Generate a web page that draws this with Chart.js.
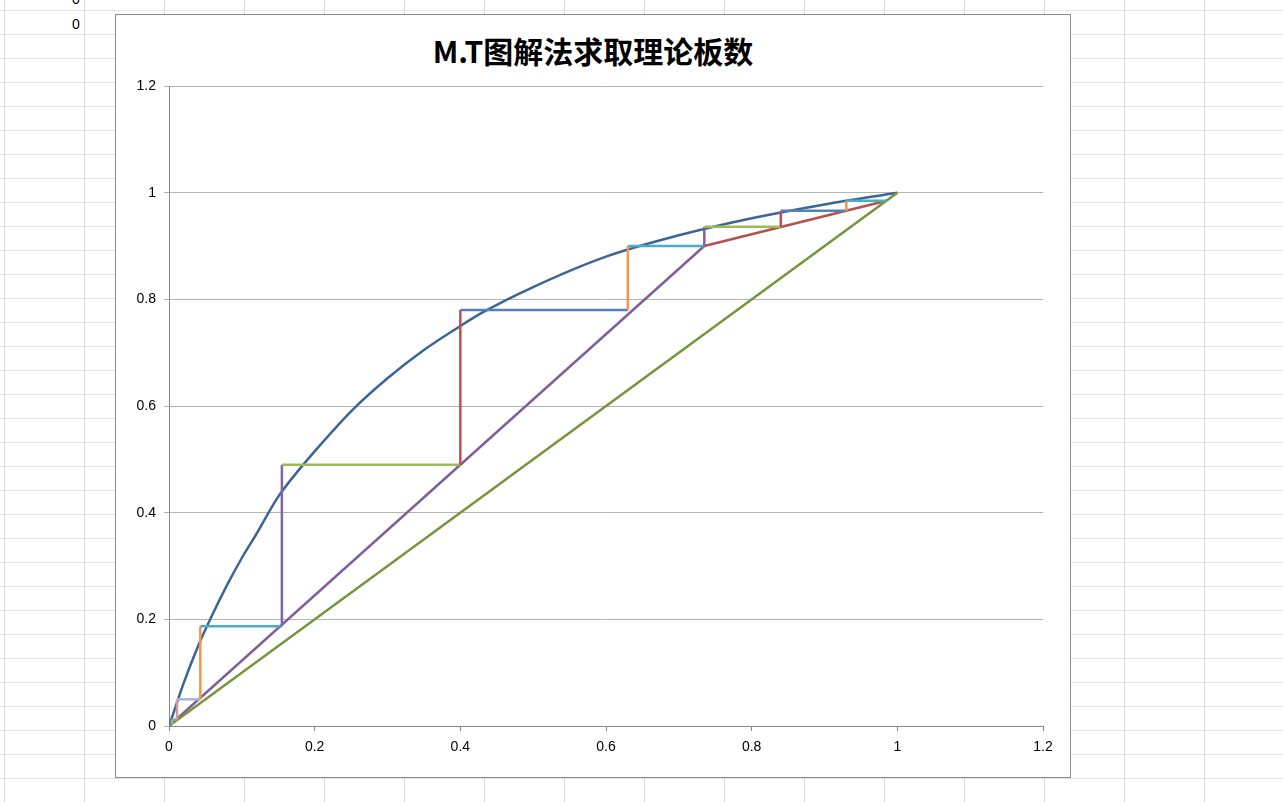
<!DOCTYPE html>
<html><head><meta charset="utf-8">
<script src="https://cdn.jsdelivr.net/npm/chart.js@4"></script>
<style>
html,body{margin:0;padding:0;width:1283px;height:802px;overflow:hidden;font-family:Calibri,"Liberation Sans","Noto Sans CJK SC",sans-serif;
background-color:#fff;
background-image:linear-gradient(to right,#d9d9d9 1px,transparent 1px),linear-gradient(to bottom,#e4e4e4 1px,transparent 1px);
background-size:80px 24px,80px 24px;background-position:4px 0,0 10px;}
#box{position:absolute;left:115px;top:14px;width:956px;height:764px;background:#fff;border:1px solid #8c8c8c;box-sizing:border-box}
#title{position:absolute;left:0;width:100%;top:13px;text-align:center;font-size:30px;font-weight:bold;color:#000;font-family:"Noto Sans CJK SC","Liberation Sans",sans-serif}
.cell{position:absolute;font-size:14px;color:#000;font-family:"Liberation Sans",sans-serif}
canvas{position:absolute;left:0;top:0}
</style></head><body>
<div class="cell" style="left:72px;top:-9px">0</div>
<div class="cell" style="left:72px;top:16px">0</div>
<div id="box"><div id="title">M.T图解法求取理论板数</div><canvas id="c" width="956" height="764"></canvas></div>
<script>
const curveX=[0,0.01,0.02,0.04,0.06,0.08,0.1,0.12,0.15,0.18,0.2,0.25,0.3,0.35,0.4,0.43,0.5,0.6,0.7,0.8,0.9,1];
const curveY=[0,0.04,0.08,0.15,0.21,0.265,0.315,0.36,0.43,0.483,0.515,0.59,0.652,0.705,0.75,0.775,0.823,0.88,0.92,0.952,0.978,1];
const diagX=[0,1];const diagY=[0,1];
const stripX=[0,0.735];const stripY=[0,0.9];
const rectX=[0.735,0.985];const rectY=[0.9,0.985];
// staircase corner points, top to bottom
const stepX=[0.985,0.93,0.93,0.84,0.84,0.735,0.735,0.63,0.63,0.4,0.4,0.155,0.155,0.043,0.043,0.011,0.011,0.004,0.004];
const stepY=[0.985,0.985,0.966,0.966,0.936,0.936,0.9,0.9,0.78,0.78,0.49,0.49,0.187,0.187,0.05,0.05,0.012,0.012,0.004];
const stepColors=['#4BACC6','#F79646','#4F81BD','#C0504D','#9BBB59','#8064A2','#4BACC6','#F79646','#4F81BD','#C0504D','#9BBB59','#8064A2','#4BACC6','#F79646','#A9B4DC','#D49A9A','#A0A0A0','#B0B0B0'];
const xTicks=[0,0.2,0.4,0.6,0.8,1,1.2];
const yTicks=[0,0.2,0.4,0.6,0.8,1,1.2];
const pts=(xs,ys)=>xs.map((x,i)=>({x,y:ys[i]}));
const ds=[];
const line=(data,color,w)=>({data,borderColor:color,borderWidth:w,showLine:true,pointRadius:0,fill:false,tension:0});
for(let i=0;i<stepX.length-1;i++){ds.push(line([{x:stepX[i],y:stepY[i]},{x:stepX[i+1],y:stepY[i+1]}],stepColors[i],2.5));}
ds.push(line(pts(diagX,diagY),'#77933C',2.5));
ds.push(line(pts(stripX,stripY),'#7D5F9E',2.5));
ds.push(line(pts(rectX,rectY),'#B4504D',2.5));
const cd=line(pts(curveX,curveY),'#3C6496',2.5);cd.cubicInterpolationMode='monotone';
ds.push(cd);
new Chart(document.getElementById('c'),{type:'scatter',data:{datasets:ds},
options:{responsive:false,animation:false,
layout:{padding:{top:71,right:29,left:0,bottom:0}},
plugins:{legend:{display:false},tooltip:{enabled:false}},
scales:{
x:{type:'linear',min:0,max:1.2,afterBuildTicks:s=>{s.ticks=xTicks.map(v=>({value:v}));},
afterFit:s=>{s.height=53;},
ticks:{color:'#000',font:{size:14,family:'Liberation Sans'},padding:8,callback:v=>String(v)},
grid:{drawOnChartArea:false,drawTicks:true,tickLength:5,color:'#868686'},border:{color:'#868686'}},
y:{type:'linear',min:0,max:1.2,afterBuildTicks:s=>{s.ticks=yTicks.map(v=>({value:v}));},
afterFit:s=>{s.width=53;},
ticks:{color:'#000',font:{size:14,family:'Liberation Sans'},padding:8,callback:v=>String(v)},
grid:{color:'#b3b3b3',lineWidth:1,drawTicks:true,tickLength:5},border:{color:'#868686'}}
}}});
</script></body></html>
